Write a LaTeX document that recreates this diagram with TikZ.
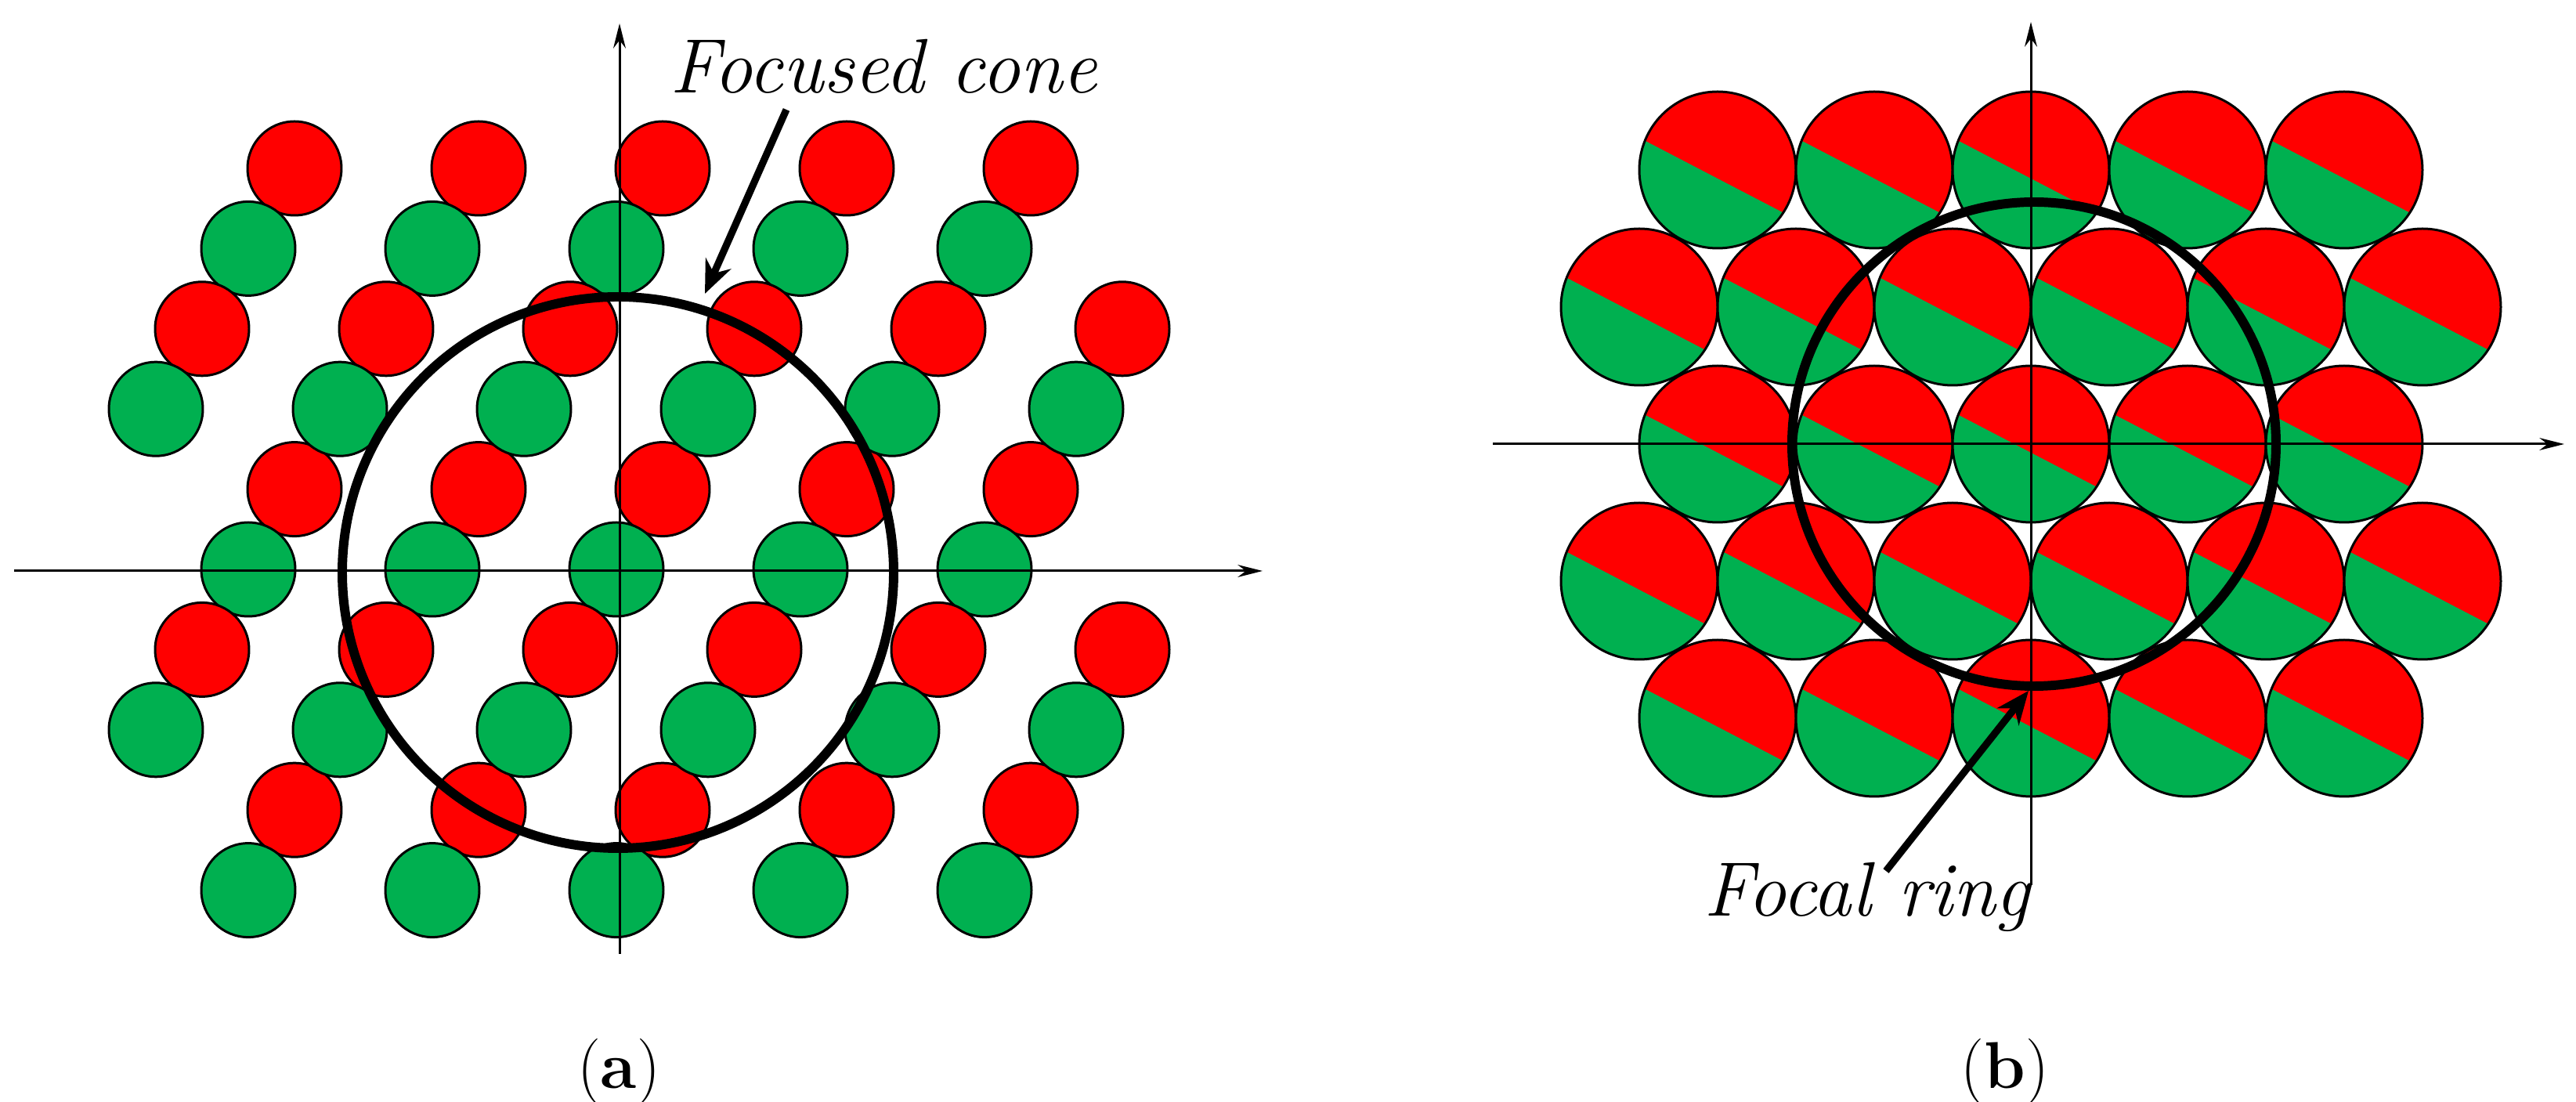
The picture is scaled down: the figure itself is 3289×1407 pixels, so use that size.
\documentclass[tikz,border=0pt]{standalone}
\usetikzlibrary{arrows.meta}
\definecolor{cred}{HTML}{FF0000}
\definecolor{cgreen}{HTML}{00B050}
\tikzset{
  ball/.style={draw=black,line width=0.85pt},
  axis/.style={line width=0.85pt,-{Stealth[length=9pt,width=4.5pt]}},
  ring/.style={line width=3.4pt},
  pointer/.style={line width=2.6pt,-{Stealth[length=12pt,width=10pt]}},
  lbl/.style={font=\fontsize{28}{32}\selectfont\itshape,inner sep=0pt},
  captxt/.style={font=\fontsize{24}{28}\selectfont,inner sep=0pt}
}
\begin{document}
\begin{tikzpicture}[x=0.01cm,y=-0.01cm]
\useasboundingbox (0,0) rectangle (3289,1407);
% ---------- panel (a) ----------
\foreach \c in {0,...,4}{
  \foreach \k/\xb/\col in {0/376/cred,1/317/cgreen,2/258/cred,3/199/cgreen,4/376/cred,5/317/cgreen,6/258/cred,7/199/cgreen,8/376/cred,9/317/cgreen}{
    \pgfmathsetmacro{\xx}{\xb+235*\c}
    \pgfmathsetmacro{\yy}{215+102.4*\k}
    \draw[ball,fill=\col] (\xx,\yy) circle[radius=60];
  }
}
\foreach \k/\xb/\col in {2/258/cred,3/199/cgreen,6/258/cred,7/199/cgreen}{
  \pgfmathsetmacro{\xx}{\xb+1175}
  \pgfmathsetmacro{\yy}{215+102.4*\k}
  \draw[ball,fill=\col] (\xx,\yy) circle[radius=60];
}
\coordinate (axL) at (18,729);
\coordinate (axR) at (1612,729);
\coordinate (ayB) at (791,1218);
\coordinate (ayT) at (791,30);
\draw[axis] (axL) -- (axR);
\draw[axis] (ayB) -- (ayT);
\draw[ring] (789,731) circle[radius=352];
\node[lbl,anchor=base west] (fc) at (855,119) {Focused cone};
\coordinate (fcTip) at (900,375);
\draw[pointer] (1004,140) -- (fcTip);
\node[captxt] (capa) at (790,1368) {(\textbf{a})};
% ---------- panel (b) ----------
\foreach \yr/\xs/\n in {217/2193/4,392/2093/5,567/2193/4,742/2093/5,917/2193/4}{
  \foreach \i in {0,...,\n}{
    \pgfmathsetmacro{\xx}{\xs+200*\i}
    \fill[cgreen] (\xx,\yr) circle[radius=100];
    \fill[cred] (\xx,\yr) ++(33:100) arc[start angle=33,end angle=-158,radius=100] -- cycle;
    \draw[ball] (\xx,\yr) circle[radius=100];
  }
}
\coordinate (bxL) at (1906,567);
\coordinate (bxR) at (3274,567);
\coordinate (byB) at (2593,1130);
\coordinate (byT) at (2593,28);
\draw[axis] (bxL) -- (bxR);
\draw[axis] (byB) -- (byT);
\draw[ring] (2597,567) circle[radius=309];
\node[lbl,anchor=base west] (fr) at (2175,1170) {Focal ring};
\coordinate (frTip) at (2590,882);
\draw[pointer] (2408,1112) -- (frTip);
\node[captxt] (capb) at (2560,1368) {(\textbf{b})};
\end{tikzpicture}
\end{document}
